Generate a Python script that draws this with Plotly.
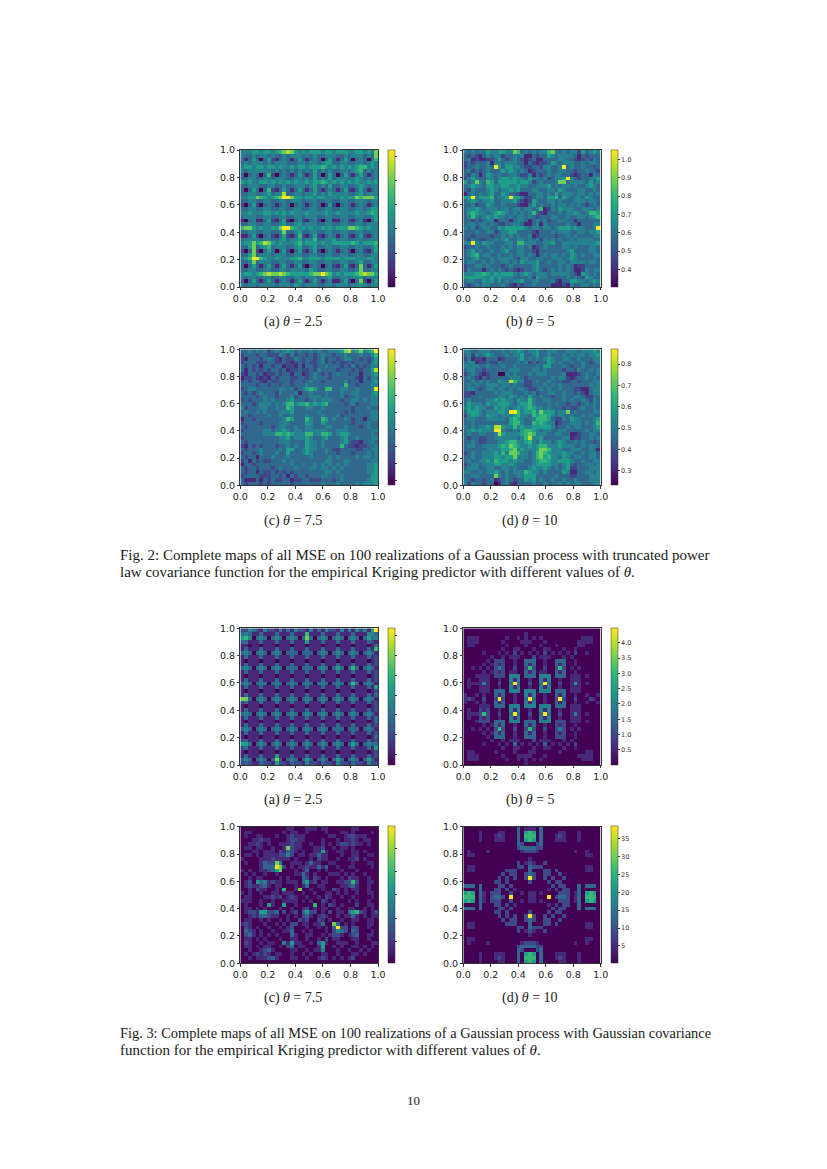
import numpy as np
import plotly.graph_objects as go

# cell colour levels, 0 = darkest, 9 = yellow, top row first
MSE_2A = [
"4445 5455 4567 8754 5455 5455 4555 4455 4547",
"4334 3443 4334 3444 3434 3344 4334 3444 3437",
"3135 3035 2134 3135 3134 3035 3135 3034 3036",
"3434 4434 3444 3334 4344 3455 3344 3344 3454",
"4554 5545 5454 4545 5455 5654 5454 5456 6454",
"4344 4444 3434 3434 3435 3434 3344 3456 3434",
"3034 3036 2034 3135 3135 3035 3035 3135 3134",
"3344 3344 3444 3344 3435 3435 3444 3454 3434",
"5454 4554 5454 5454 4545 5654 5454 5454 4545",
"3344 4334 4334 3344 4345 3435 3344 3345 4344",
"3035 3036 2135 3135 3135 3134 3135 2135 3134",
"3344 3345 3448 3344 3445 3435 4444 3345 3444",
"4455 7654 5679 9755 4554 5544 4454 5576 7775",
"3344 3344 3344 3444 3344 3344 3344 3344 4344",
"2035 2034 3134 3034 3134 3025 2034 3134 3134",
"3344 3344 3344 3344 3344 3344 3344 3344 3455",
"4454 4455 4545 4544 4544 4454 4544 4454 4565",
"3444 3344 3344 3344 3444 3344 3344 3344 3345",
"1034 1135 2135 1034 2134 2034 1134 2134 1035",
"3344 3344 3345 3345 3444 3344 3344 3344 3444",
"6775 4544 5579 9654 5454 4545 4555 7765 4544",
"3344 3344 3347 3345 3344 3344 3344 3344 3344",
"1135 2034 2135 2136 2135 2134 3134 2135 2134",
"3444 4344 3345 3445 3446 3344 5344 3344 3444",
"4557 5687 5454 4456 4555 4544 5555 5654 5556",
"3357 3456 3444 3345 3345 3344 3344 3344 3345",
"2037 2035 3035 2035 2135 2034 3134 2034 2135",
"3357 3444 3444 3344 3344 3344 3344 3344 3344",
"4569 9654 4544 4556 4455 5455 5545 5544 4554",
"3347 3444 3344 3344 3344 3344 3344 3345 3344",
"3035 3135 3135 3135 2034 3034 2135 2137 3135",
"3344 3344 3344 3444 4354 3344 3344 3347 3344",
"4554 5678 7787 6555 5567 7976 4545 5567 8775",
"4344 3344 3344 3344 3444 3445 3344 3445 3444",
"3035 3135 3134 3135 3135 3134 1135 2037 2035",
"4344 3444 4344 4354 3444 3344 3444 3445 4344",
]
MSE_2B = [
"4343 4354 4554 4763 4343 4467 4343 4425 3454",
"3232 1343 4423 3434 1132 3354 3444 4313 2333",
"3412 1122 3532 3432 1231 1333 3443 3212 3243",
"2323 3341 4434 4433 1321 2235 4344 4334 3443",
"2334 3343 9535 5443 2233 2443 3493 4334 3323",
"3423 2343 3354 5434 3123 3343 3443 3233 4332",
"3243 1354 3433 4432 2413 2343 4433 2123 3143",
"2454 3344 3455 4544 3544 3423 4459 4323 3445",
"5347 4365 3555 5545 5423 4333 4773 4444 3534",
"3454 4355 4455 4454 4334 4453 4344 3433 4543",
"3243 3345 4344 5453 3344 3344 3543 3344 3343",
"1343 4345 3354 3321 1334 4343 5344 4344 3434",
"5594 5556 3445 9554 2234 4355 6354 3443 5433",
"3454 3445 3344 4532 1254 3344 3433 3444 3443",
"3342 3354 3343 3321 1353 4334 3443 4343 2343",
"3445 4344 4344 3443 4434 6124 3544 4334 4434",
"3565 4434 5654 3434 3463 2133 3434 4543 4665",
"3464 3454 5443 4344 3432 3334 4334 3344 3456",
"3323 2344 1333 1344 3134 3423 3443 3133 3333",
"3443 4434 3223 3443 1134 1433 3334 3313 3344",
"4342 3443 3545 5555 4344 3443 4555 4544 3349",
"3334 3344 2344 5533 3321 3334 3444 3344 3445",
"3323 3332 3343 4343 3412 3333 2334 3433 3344",
"3243 2233 4345 3344 3434 2434 3433 4344 4433",
"4494 3544 3334 4366 4443 3445 3344 4444 4445",
"2334 3343 3343 4344 3412 3433 3344 3433 3443",
"3453 4334 3345 3344 3321 3333 3334 5333 3443",
"3456 3443 3433 4344 3431 3434 4343 5434 3344",
"3345 3334 3444 4324 4334 4334 4434 5433 3343",
"3443 3434 3344 3435 4445 3343 3443 4444 3443",
"2334 4343 3323 4333 3345 3333 3434 3122 3333",
"2433 3134 3432 3212 3345 3234 3434 3112 4344",
"4445 5654 5455 5434 5434 4434 4444 3215 4343",
"5555 5445 4544 4333 3425 4433 3334 3432 5433",
"3443 3545 3534 3445 3344 3334 2133 5544 3454",
"3234 3443 3343 2132 3343 3331 1121 4334 4343",
]
MSE_2C = [
"3343 4342 3434 5434 3343 4334 4457 8457 4569",
"2333 2332 2243 2423 3232 3433 2334 3334 3346",
"2133 3234 3213 2243 2332 3423 3234 4332 3235",
"2333 2223 3223 2123 2322 3423 2322 3233 3245",
"3232 3133 2331 2213 1332 3343 3323 2423 2344",
"3132 3232 3323 1223 2232 4333 3233 3232 3358",
"2133 2312 2323 3133 1234 3232 3433 2331 3345",
"1223 2121 3233 3223 3234 3332 3333 3321 3244",
"2323 3213 2233 3233 2343 3233 3334 2331 3345",
"3333 2332 3323 3233 3433 3333 3336 3323 3344",
"2344 3333 3344 3423 4565 3366 3344 3343 3349",
"3232 3433 3243 3341 3343 3343 3343 3443 3345",
"3333 2343 3233 3423 3344 4343 3342 3343 3344",
"2323 3343 4333 4533 3234 3444 3323 3443 4344",
"3332 3444 3434 6645 5645 4563 3332 3423 3344",
"4233 3443 3433 6533 3443 3433 3333 3233 3433",
"3433 4343 3344 4533 3333 4333 3332 3233 3344",
"3323 3334 3343 3433 3433 3433 3423 3333 3344",
"1332 3333 3334 6533 3643 3653 4334 3233 1344",
"2333 3233 3344 4333 3543 3543 3333 3233 3433",
"3233 3333 2344 3343 3443 3344 3334 3332 3433",
"2333 3344 3445 4344 3444 4443 3444 3333 3344",
"3333 3344 4665 6544 4664 4665 3455 4333 3343",
"2333 3333 3344 5344 4543 3453 3345 3343 3344",
"3233 3333 3344 4333 3544 3433 3345 3221 3343",
"2132 3233 3233 4343 3544 3433 3363 2212 2334",
"3233 3433 3343 5533 4544 3343 2233 3322 3344",
"2332 3433 3433 5333 4543 3343 3233 3233 3434",
"3233 1333 4333 4333 3343 3334 3433 3343 4434",
"2313 2322 3334 3433 3333 3344 3334 4333 3344",
"1332 3333 3333 3433 4334 3434 3434 3333 3445",
"3233 2333 2343 3343 3344 3443 4343 3333 3445",
"3233 1322 3232 3233 3333 3344 3433 3333 3445",
"2333 3222 3323 1323 3233 3443 3343 3333 3355",
"3111 3132 3223 3122 3322 2333 2343 3333 3455",
"3233 3232 3333 3233 3333 3433 3433 3343 4445",
]
MSE_2D = [
"4433 4443 3343 4454 3445 3344 4334 4434 4454",
"3424 3454 3334 3445 3345 3343 3343 4344 3445",
"2412 2133 3123 3345 3434 3454 3344 3343 3344",
"3441 2232 2433 3343 4232 3354 3433 4334 3234",
"4444 3343 3343 3433 3334 3553 3343 2334 3333",
"3443 3233 3333 4443 3344 3433 3323 3243 3434",
"2343 2123 3004 3433 3434 4433 3341 1123 4334",
"3432 1323 3333 4443 2333 3334 3442 1233 4343",
"3343 4343 3544 8644 2234 3343 3322 3323 3344",
"3434 3344 4344 3433 2233 3434 3433 3333 3434",
"3443 2344 3443 4344 3223 4343 3433 3221 1344",
"2213 3333 4344 4333 4342 3344 3343 3232 1344",
"2233 4333 3443 5434 3533 4332 3343 3443 2233",
"3433 3344 5454 4354 4643 3443 3343 4334 3243",
"3544 4354 4555 4345 5643 3343 4332 3323 4343",
"4545 4433 5454 3454 5654 4343 3323 2234 3343",
"3555 4344 4554 9964 5564 7555 3447 3433 3344",
"2455 4354 4344 4564 4365 6654 3443 4334 3433",
"3443 3344 4443 5654 3346 6653 2243 5443 3345",
"3343 3333 3333 5664 3365 6544 1233 4443 4346",
"4343 4454 8854 4645 4455 5554 2334 3443 3345",
"3454 5444 9943 3435 6654 3443 3443 3333 4344",
"3433 4433 4854 4445 6764 4433 4433 1123 3443",
"3233 2233 4444 4434 6844 5333 3344 1223 3434",
"3343 2233 3445 6644 5643 5443 4543 3434 3323",
"3443 3444 4565 7654 4545 6644 4544 4334 3443",
"3333 3344 4455 6745 4445 7764 4433 4443 3431",
"2343 3444 5464 7764 4346 7654 4454 4334 3443",
"3343 3444 5545 5744 4346 7564 4354 3443 3443",
"3433 4454 6555 4544 3345 6654 4555 4334 3344",
"2344 3444 5544 5433 3345 5554 4345 3233 4434",
"3444 3344 3344 3433 3454 4543 4345 2233 3444",
"4433 4344 5434 3444 6544 3433 3354 1133 4434",
"3344 3333 7434 3344 5553 3333 4333 2233 3444",
"4323 3234 1234 3233 5453 4334 3343 3433 3444",
"4243 3233 0134 2133 3343 3433 3434 3443 3344",
]
MSE_3A = [
"2243 2142 2141 3142 2141 3142 2141 4142 4159",
"3431 1311 1311 1311 1611 1311 1311 1311 1443",
"5640 3430 3430 3430 3730 3430 3430 3430 3534",
"3311 1311 1311 1311 1511 1311 1311 1311 1321",
"1101 1011 1011 1011 1011 1011 1011 1011 1013",
"1311 1311 1311 1311 1311 1311 1311 1311 1316",
"3430 3430 3430 3330 3330 3430 3430 3430 3431",
"1311 1311 1311 1311 1311 1311 1311 1311 1312",
"1011 1011 1011 1011 1011 1011 1011 1011 1012",
"1311 1311 1311 1311 1311 1311 1311 1311 1312",
"3430 3430 3430 3330 3330 3430 3530 3630 3431",
"1311 1311 1311 1311 1311 1311 1311 1311 1312",
"1011 1011 1011 1011 1011 1011 1011 1011 1012",
"1311 1311 1311 1311 1311 1311 1311 1311 1312",
"3430 3430 3430 3430 3430 3430 3430 3630 3431",
"1311 1311 1311 1311 1311 1311 1311 1311 1315",
"1011 1011 1011 1011 1011 1011 1011 1011 1012",
"1311 1311 1311 1311 1311 1311 1311 1311 1313",
"7730 3430 3430 3430 3430 3430 3430 3430 3431",
"2311 1311 1311 1311 1311 1311 1311 1311 1312",
"1011 1011 1011 1011 1011 1011 1011 1011 1012",
"1311 1311 1311 1311 1311 1311 1311 1311 1312",
"3430 3430 3430 3430 3430 3430 3430 3430 3431",
"1311 1311 1311 1311 1311 1311 1311 1311 1313",
"1011 1011 1011 1011 1011 1011 1011 1011 1013",
"1311 1311 1311 1311 1311 1311 1311 1311 1312",
"3430 3430 3430 3430 3430 3430 3330 3330 3431",
"1311 1311 1311 1311 1311 1311 1311 1311 1312",
"1011 1011 1011 1011 1011 1011 1011 1011 1013",
"2311 1311 1311 1311 1311 1311 1311 1311 1312",
"5530 3430 3430 3430 3430 3430 3430 3530 3433",
"2311 1311 1311 1311 1311 1311 1311 1311 1315",
"1011 1011 1011 1011 1011 1011 1011 1011 1012",
"1311 1311 1511 1311 1311 1311 1311 1311 1312",
"3430 3430 3730 3430 3530 3430 3530 3430 3531",
"2321 1322 1522 1322 1422 1322 1422 1322 1422",
]
MSE_3B = [
"0000 0000 0000 0000 0000 0000 0000 0000 0000",
"0000 0000 0000 0000 1000 0000 0000 0000 0000",
"0111 0000 0001 0010 1010 1000 0000 0001 1100",
"0111 0000 0010 0001 1100 0100 0000 0011 1100",
"0110 0000 0001 0000 1000 1000 1000 0011 0000",
"0000 0000 0010 0110 0010 0110 0010 0100 0000",
"0000 0100 0101 0201 0101 0201 0101 0200 1000",
"0000 0001 0010 1110 0020 1110 0010 1000 0000",
"0000 0010 2220 0100 3330 0100 3330 0100 0000",
"0000 0101 2120 0100 3130 0100 3130 0100 0000",
"0010 1010 2420 0200 2620 0200 2620 1010 0000",
"0000 0101 2120 1100 3130 1100 3130 0100 0000",
"0001 1110 2220 4440 3330 4440 3330 1110 1000",
"0100 1110 0100 4140 0100 4140 0100 1110 0000",
"0111 1410 0200 3930 0200 3930 0200 1510 1000",
"0100 1110 0100 4140 0100 4140 0100 1110 0000",
"0000 1110 3330 4440 4440 4440 3330 1110 0000",
"1001 0100 3130 0100 4140 0100 3130 0100 1001",
"1210 0200 2920 0100 3930 0100 2920 0200 0210",
"1001 0100 3130 0100 4140 0100 3130 0100 1001",
"0000 1110 3330 4440 4440 4440 3330 1110 0000",
"0100 2120 0100 4140 0100 4140 0100 1110 0000",
"0111 2620 0200 3930 0200 3930 0200 1410 1000",
"0100 2120 0100 4140 0100 4140 0100 1110 0000",
"0001 2220 3330 4440 3330 4440 2220 1110 1000",
"0000 0101 3130 0100 3130 0100 2120 0100 0000",
"0010 1010 2620 0200 2620 0200 2420 1010 0000",
"0000 0101 3130 0100 3130 0100 2120 0100 0000",
"0000 0010 3330 0100 3330 0100 2220 0100 0000",
"0000 0001 0010 1110 0020 1110 0010 1000 0000",
"0000 0100 0101 0301 0101 0301 0101 0200 0000",
"0000 0000 0010 0110 0010 0110 0010 0100 0000",
"0110 0000 1000 0100 0110 0000 0100 0000 1100",
"0111 0000 0010 0011 1100 0100 0000 0011 1100",
"0111 0000 0001 0010 1010 1000 0000 0001 1100",
"0000 0000 0000 0000 1000 0000 0000 0000 0000",
]
MSE_3C = [
"0000 0000 0000 1100 0111 0110 0000 0110 0000",
"0110 0000 0001 0110 0100 0010 0011 0100 0010",
"0100 1100 0100 1211 1000 0001 1001 2211 1000",
"0001 1211 0000 1221 1000 0100 0101 1210 1100",
"0011 2101 0011 1211 0010 0101 0122 1211 0100",
"0110 1100 1001 7211 0001 1200 1011 0100 0000",
"0001 1011 1021 3210 1001 1510 0110 0110 1000",
"0110 1011 1122 4201 1011 3110 0010 0110 0110",
"1000 0111 2111 1010 0010 2110 0100 1120 1000",
"0100 0132 2740 0111 0131 1001 1000 0100 0110",
"0000 0133 3972 0101 1211 3130 0100 1100 0010",
"1010 0112 3570 0010 1300 1010 0010 0010 0000",
"0101 0010 0100 0011 3101 0001 1101 0100 1000",
"0010 1100 0010 1000 3202 1010 0010 2110 0100",
"0120 5341 2110 1110 3512 0110 0112 2620 0110",
"0121 1231 0110 0010 1300 1100 0011 2310 0100",
"0010 2110 0106 0017 0010 0100 2101 0110 0100",
"1010 0100 1101 1100 1001 0011 0101 0010 0110",
"0110 0011 2120 1210 0100 1021 0010 0100 0010",
"1110 0100 1001 1110 1010 0210 1000 1010 0100",
"0100 0105 1005 0010 0006 0102 1010 0020 0110",
"0110 1010 0010 0100 1201 0110 0100 1100 1010",
"0122 1552 2302 0120 3522 0102 0110 3562 1012",
"0012 1332 1100 1010 2310 1210 0101 1310 1011",
"0110 0101 0010 1002 1200 2101 0010 0110 0110",
"1210 0010 0101 0220 1101 1300 7301 0100 0110",
"0210 1001 0010 1200 0100 1010 3922 0220 0100",
"0321 0100 1001 1300 1010 0010 2432 0320 0010",
"0231 0101 0100 0310 0110 0101 2210 1230 0110",
"0110 1010 0010 0110 0100 1020 1100 0110 0100",
"0210 0101 1004 1511 0010 3510 0111 0010 0011",
"0110 1011 0010 2301 1000 1500 1010 0110 1010",
"0010 0123 1000 0110 0101 1400 0100 1001 0100",
"0101 2121 0110 0100 1010 0110 0100 0110 1000",
"0010 1112 3100 0110 0100 1210 1010 1200 0000",
"0000 0000 0000 0000 0000 0000 0000 0000 0000",
]
MSE_3D = [
"0000 0000 0000 0030 1110 3000 0000 0000 0000",
"0000 1000 0110 0030 5650 3000 0110 0010 0000",
"0000 1000 1210 0030 6660 3000 1210 0010 0000",
"0000 1000 1110 0030 5650 3000 1110 0010 0000",
"0000 0000 0000 0032 0002 3000 0000 0000 0000",
"0000 0000 0000 0023 3332 2000 0000 0000 0000",
"0100 0010 0000 0001 2221 0000 0000 0100 1000",
"0110 0000 0000 0000 0000 0000 0000 0000 1100",
"0000 0000 0000 0000 0100 0000 0000 0000 0000",
"0000 0000 0000 0020 1210 0200 0000 0000 0000",
"0110 0000 0000 0022 0322 2000 0000 0000 1100",
"0110 0000 0002 2200 0300 0220 2000 0000 1100",
"0000 0000 0020 2200 2320 0220 0200 0000 0000",
"0000 0000 0202 0200 2920 0202 0020 0000 0000",
"0000 0000 2202 0000 0200 0020 2200 0000 0000",
"3330 3000 0220 2000 0000 0002 0220 0030 3330",
"0000 3000 2202 0100 0000 0010 2022 0030 0000",
"5650 3102 2200 2001 0110 1000 0222 0130 5650",
"6660 3102 3320 9000 0110 0090 2332 0130 6660",
"5650 3102 2200 2001 0110 1000 0222 0130 5650",
"0000 3000 2202 0100 0000 0010 2022 0030 0000",
"3330 3000 0220 2000 0000 0002 0220 0030 3330",
"0000 0000 2202 0000 0200 0020 2200 0000 0000",
"0000 0000 0202 0200 2920 0202 0020 0000 0000",
"0000 0000 0020 2200 2320 0220 0200 0000 0000",
"0110 0000 0002 2200 0300 0220 2000 0000 1100",
"0110 0000 0000 0022 0322 2000 0000 0000 1100",
"0000 0000 0000 0020 1210 0200 0000 0000 0000",
"0000 0000 0000 0000 0100 0000 0000 0000 0000",
"0110 0000 0000 0000 0000 0000 0000 0000 1100",
"0100 0010 0000 0001 2221 0000 0000 0100 1000",
"0000 0000 0000 0023 3332 2000 0000 0000 0000",
"0000 0000 0000 0032 0002 3000 0000 0000 0000",
"0000 1000 1110 0030 5650 3000 1110 0010 0000",
"0000 1000 1210 0030 6660 3000 1210 0010 0000",
"0000 1000 0110 0030 5650 3000 0110 0010 0000",
]

# colour range of each map
RANGES = [(0.32, 1.45), (0.303, 1.053), (0.27, 1.07), (0.231, 0.87),
          (0.46, 7.4), (0.008, 4.48), (0.05, 5.95), (0.16, 38.4)]
BAR_TICKS = [[0.4, 0.6, 0.8, 1.0, 1.2, 1.4],
             [0.4, 0.5, 0.6, 0.7, 0.8, 0.9, 1.0],
             [0.3, 0.4, 0.5, 0.6, 0.7, 0.8, 0.9, 1.0],
             [0.3, 0.4, 0.5, 0.6, 0.7, 0.8],
             [1, 2, 3, 4, 5, 6, 7],
             [0.5, 1.0, 1.5, 2.0, 2.5, 3.0, 3.5, 4.0],
             [1, 2, 3, 4, 5],
             [5, 10, 15, 20, 25, 30, 35]]
# the (a) and (c) colorbars have their labels cut off in the original
BAR_LABELS = [False, True, False, True, False, True, False, True]
AXIS_TICKS = [0.0, 0.2, 0.4, 0.6, 0.8, 1.0]
PANEL_NAMES = ["(a)", "(b)", "(c)", "(d)"]
THETAS = ["2.5", "5", "7.5", "10"]

W, H = 827, 1169
COL_X = [(240.3, 378.0), (463.3, 600.7)]
BAR_X = [388.3, 611.0]
ROW_Y = [(150.0, 287.0), (349.3, 485.3), (628.3, 765.0), (826.7, 963.3)]
CAPTION_X = [292.5, 530.0]
CAPTION_Y = [322, 521, 800, 998]
SERIF = "Liberation Serif"
SANS = "DejaVu Sans"


def to_z(rows, zmin, zmax):
    # rows are listed top first, the y axis runs upwards
    levels = []
    for row in rows[::-1]:
        row = row.replace(" ", "")
        if len(row) != 36:
            raise ValueError(f"bad row {row}")
        levels.append([int(ch) for ch in row])
    return zmin + np.array(levels) / 9 * (zmax - zmin)


def note(text, x, y, size=13, anchor="center"):
    return dict(text=text, x=x / W, y=1 - y / H, xref="paper", yref="paper",
                xanchor=anchor, yanchor="middle", showarrow=False,
                font=dict(family=SERIF, size=size, color="#1a1a1a"))


maps = [MSE_2A, MSE_2B, MSE_2C, MSE_2D, MSE_3A, MSE_3B, MSE_3C, MSE_3D]
centres = (np.arange(36) + 0.5) / 36
fig = go.Figure()
layout = {}
notes = []

for i, rows in enumerate(maps):
    row, col = i // 2, i % 2
    x0, x1 = COL_X[col]
    y0, y1 = ROW_Y[row]
    zmin, zmax = RANGES[i]
    suffix = "" if i == 0 else str(i + 1)
    ticks = BAR_TICKS[i]
    fig.add_trace(go.Heatmap(
        x=centres, y=centres, z=to_z(rows, zmin, zmax),
        zmin=zmin, zmax=zmax, colorscale="Viridis", hoverinfo="skip",
        xaxis="x" + suffix, yaxis="y" + suffix,
        colorbar=dict(
            x=BAR_X[col] / W, xanchor="left", xpad=0, ypad=0,
            y=1 - y1 / H, yanchor="bottom", len=(y1 - y0) / H, lenmode="fraction",
            thickness=7, thicknessmode="pixels", outlinewidth=0.5, outlinecolor="#333",
            tickmode="array", tickvals=ticks,
            ticktext=[str(t) if BAR_LABELS[i] else "" for t in ticks],
            ticks="outside", ticklen=2, tickwidth=0.5, tickcolor="#333",
            tickfont=dict(family=SANS, size=6.5, color="#333")),
    ))
    axis = dict(range=[0, 1], tickmode="array", tickvals=AXIS_TICKS, tickformat=".1f",
                ticks="outside", ticklen=2.5, tickwidth=0.6, tickcolor="#333",
                showline=True, linewidth=0.6, linecolor="#333", mirror=True,
                showgrid=False, zeroline=False,
                tickfont=dict(family=SANS, size=9.5, color="#222"))
    layout["xaxis" + suffix] = dict(axis, domain=[x0 / W, x1 / W], anchor="y" + suffix)
    layout["yaxis" + suffix] = dict(axis, domain=[1 - y1 / H, 1 - y0 / H], anchor="x" + suffix)
    notes.append(note(f"{PANEL_NAMES[i % 4]} <i>θ</i> = {THETAS[i % 4]}",
                      CAPTION_X[col], CAPTION_Y[row], size=14))

# the first lines are justified in the original, so their widths differ from the plain ones
notes += [
    note("Fig. 2: Complete maps of all MSE on 100 realizations of a Gaussian process with truncated power",
         118, 555, size=15, anchor="left"),
    note("law covariance function for the empirical Kriging predictor with different values of <i>θ</i>.",
         118, 572, size=15, anchor="left"),
    note("Fig. 3: Complete maps of all MSE on 100 realizations of a Gaussian process with Gaussian covariance",
         118, 1033, size=14.4, anchor="left"),
    note("function for the empirical Kriging predictor with different values of <i>θ</i>.",
         118, 1050, size=15, anchor="left"),
    note("10", 413, 1100, size=13),
]

fig.update_layout(width=W, height=H, margin=dict(l=0, r=0, t=0, b=0, autoexpand=False),
                  paper_bgcolor="white", plot_bgcolor="white",
                  showlegend=False, annotations=notes, **layout)
fig.write_html("out.html", config={"displayModeBar": False},
               post_script="document.body.style.margin = '0';")
